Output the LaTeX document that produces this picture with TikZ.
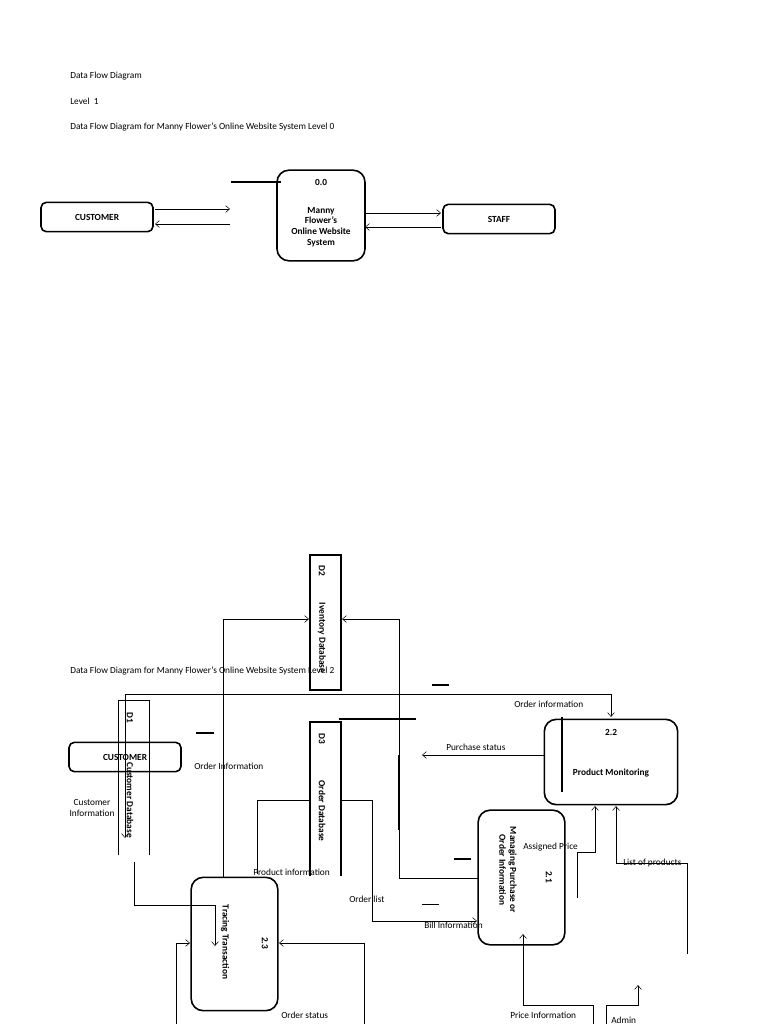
\documentclass[tikz,border=0pt]{standalone}
\usepackage{fontspec}
\setmainfont{Carlito}
\usetikzlibrary{arrows.meta}
\begin{document}
\begin{tikzpicture}[x=0.75pt,y=-0.75pt,
  txt/.style={font=\fontsize{7}{8}\selectfont, inner sep=0pt},
  lbl/.style={txt, anchor=west},
  bold/.style={txt, font=\fontsize{7}{8}\selectfont\bfseries},
  ent/.style={draw, very thick, rounded corners=4pt, minimum width=84pt, minimum height=22pt, bold},
  proc/.style={draw, very thick, rounded corners=9pt, inner sep=0pt},
  flow/.style={thin, -{Straight Barb[length=3pt,width=5pt]}},
  line/.style={thin},
  bar/.style={very thick}]
\useasboundingbox (0,0) rectangle (768,1024);
% ---- level 0 ----
\node[lbl] (t1) at (70,76) {Data Flow Diagram};
\node[lbl] (t2) at (70,101) {Level\ \ 1};
\node[lbl] (t3) at (70,127) {Data Flow Diagram for Manny Flower’s Online Website System Level 0};
\node[ent] (cust0) at (97,217) {CUSTOMER};
\node[ent] (staff) at (499,219) {STAFF};
\node[proc, minimum width=66pt, minimum height=68pt] (p0) at (321,215.5) {};
\node[bold, align=center] (p0n) at (321,182) {0.0};
\node[bold, align=center] (p0t) at (321,227) {Manny\\Flower’s\\Online Website\\System};
\coordinate (a1) at (155,209); \coordinate (a2) at (230,209);
\coordinate (a3) at (230,224); \coordinate (a4) at (155,224);
\draw[flow] (a1) -- (a2);
\draw[flow] (a3) -- (a4);
\coordinate (b1) at (231,182); \coordinate (b2) at (281,182);
\draw[bar] (b1) -- (b2);
\coordinate (c1) at (365,213); \coordinate (c2) at (441,213);
\coordinate (c3) at (441,227); \coordinate (c4) at (365,227);
\draw[flow] (c1) -- (c2);
\draw[flow] (c3) -- (c4);
% ---- level 2 ----
\node[draw, very thick, minimum width=23pt, minimum height=101pt, inner sep=0pt] (d2) at (325.5,622.5) {};
\node[bold, rotate=-90] (d2n) at (322,571) {D2};
\node[bold, rotate=-90] (d2t) at (322,638) {Iventory Database};
\node[lbl] (t4) at (70,671) {Data Flow Diagram for Manny Flower’s Online Website System Level 2};
% D1 open store
\coordinate (d1a) at (118,855); \coordinate (d1b) at (118,700);
\coordinate (d1c) at (149,700); \coordinate (d1d) at (149,855);
\draw[line] (d1a) -- (d1b) -- (d1c) -- (d1d);
\node[bold, rotate=-90] (d1n) at (130,718) {D1};
\node[bold, rotate=-90] (d1t) at (130,800) {Customer Database};
\node[ent, minimum width=84pt] (cust) at (125,757) {CUSTOMER};
% D3
\coordinate (d3a) at (310,876); \coordinate (d3b) at (310,722);
\coordinate (d3c) at (341,722); \coordinate (d3d) at (341,876);
\draw[bar] (d3a) -- (d3b) -- (d3c) -- (d3d);
\node[bold, rotate=-90] (d3n) at (322,739) {D3};
\node[bold, rotate=-90] (d3t) at (322,811) {Order Database};
% processes
\node[proc, minimum width=65pt, minimum height=100pt] (p23) at (234.5,944) {};
\node[bold, rotate=-90] (p23t) at (225,942) {Tracing Transaction};
\node[bold, rotate=-90] (p23n) at (265,943) {2.3};
\node[proc, minimum width=100pt, minimum height=64pt] (p22) at (611,762) {};
\node[bold] (p22n) at (611,732) {2.2};
\node[bold] (p22t) at (611,773) {Product Monitoring};
\node[proc, minimum width=65pt, minimum height=101pt] (p21) at (521.5,877.5) {};
\node[bold, rotate=-90, align=center] (p21t) at (508,870) {Managing Purchase or\\Order Information};
\node[bold, rotate=-90] (p21n) at (549,877) {2.1};
% bars and dashes
\coordinate (e1) at (339,719); \coordinate (e2) at (416,719); \draw[bar] (e1) -- (e2);
\coordinate (e3) at (399,755); \coordinate (e4) at (399,830); \draw[bar] (e3) -- (e4);
\coordinate (e5) at (562,717); \coordinate (e6) at (562,792); \draw[bar] (e5) -- (e6);
\coordinate (e7) at (196,733); \coordinate (e8) at (214,733); \draw[thick] (e7) -- (e8);
\coordinate (e9) at (432,685); \coordinate (e10) at (449,685); \draw[thick] (e9) -- (e10);
\coordinate (e11) at (454,859); \coordinate (e12) at (471,859); \draw[thick] (e11) -- (e12);
\coordinate (e13) at (422,904); \coordinate (e14) at (439,904); \draw[line] (e13) -- (e14);
% flows
\coordinate (f1) at (223,877); \coordinate (f2) at (223,619); \coordinate (f3) at (309,619);
\draw[flow] (f1) -- (f2) -- (f3);
\coordinate (g1) at (478,878); \coordinate (g2) at (399,878); \coordinate (g3) at (399,619); \coordinate (g4) at (342,619);
\draw[flow] (g1) -- (g2) -- (g3) -- (g4);
\coordinate (h1) at (125,838); \coordinate (h2) at (125,694); \coordinate (h3) at (611,694); \coordinate (h4) at (611,717);
\draw[flow] (h2) -- (h1);
\draw[flow] (h2) -- (h3) -- (h4);
\node[lbl] (l1) at (514,704) {Order information};
\node[lbl] (l2) at (194,766) {Order Information};
\node[txt, align=center] (l3) at (92,808) {Customer\\Information};
\coordinate (i1) at (310,800); \coordinate (i2) at (257,800); \coordinate (i3) at (257,874);
\draw[line] (i1) -- (i2) -- (i3);
\node[lbl] (l4) at (253,872) {Product information};
\coordinate (j1) at (341,800); \coordinate (j2) at (372,800); \coordinate (j3) at (372,921); \coordinate (j4) at (477,921);
\draw[flow] (j1) -- (j2) -- (j3) -- (j4);
\node[lbl] (l5) at (349,899) {Order list};
\node[lbl] (l6) at (424,925) {Bill Information};
\coordinate (k1) at (134,862); \coordinate (k2) at (134,905); \coordinate (k3) at (215,905); \coordinate (k4) at (215,946);
\draw[flow] (k1) -- (k2) -- (k3) -- (k4);
\coordinate (m1) at (176,1024); \coordinate (m2) at (176,943); \coordinate (m3) at (190,943);
\draw[flow] (m1) -- (m2) -- (m3);
\coordinate (n1) at (364,1024); \coordinate (n2) at (364,943); \coordinate (n3) at (279,943);
\draw[flow] (n1) -- (n2) -- (n3);
\node[lbl] (l7) at (281,1015) {Order status};
\coordinate (o1) at (544,755); \coordinate (o2) at (422,755);
\draw[flow] (o1) -- (o2);
\node[lbl] (l8) at (446,747) {Purchase status};
\coordinate (q1) at (577,898); \coordinate (q2) at (577,852); \coordinate (q3) at (595,852); \coordinate (q4) at (595,806);
\draw[flow] (q1) -- (q2) -- (q3) -- (q4);
\node[lbl] (l9) at (523,847) {Assigned Price};
\coordinate (r1) at (687,954); \coordinate (r2) at (687,863); \coordinate (r3) at (616,863); \coordinate (r4) at (616,806);
\draw[flow] (r1) -- (r2) -- (r3) -- (r4);
\node[lbl] (l10) at (623,863) {List of products};
\coordinate (s1) at (593,1024); \coordinate (s2) at (593,1005); \coordinate (s3) at (523,1005); \coordinate (s4) at (523,934);
\draw[flow] (s1) -- (s2) -- (s3) -- (s4);
\node[lbl] (l11) at (510,1015) {Price Information};
\coordinate (u1) at (606,1024); \coordinate (u2) at (606,1005); \coordinate (u3) at (638,1005); \coordinate (u4) at (638,985);
\draw[flow] (u1) -- (u2) -- (u3) -- (u4);
\node[lbl] (l12) at (611,1020) {Admin};
\end{tikzpicture}
\end{document}
